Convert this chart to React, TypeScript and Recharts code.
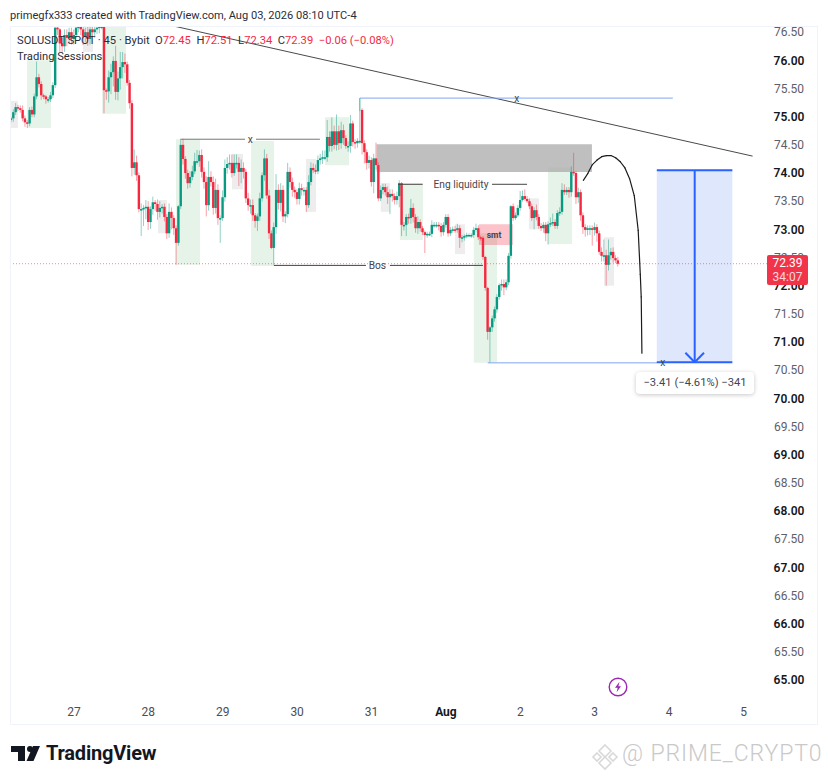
import { Bar, ComposedChart, ReferenceArea, ReferenceDot, ReferenceLine, XAxis, YAxis } from 'recharts';

const UP = '#089981';
const DOWN = '#f5283f';
const LIGHT_BLUE = '#7ea6f4';
const BLUE = '#2962ff';
const FONT = 'Roboto, sans-serif';

const PRICE_TOP = 76.61;
const PRICE_BOTTOM = 64.68;
const LAST_PRICE = 72.39;

const closes = [
  74.97, 75.08, 75.17, 75.15, 75.12, 74.97, 74.9, 74.88, 75.12, 75.04,
  75.36, 75.7, 75.58, 75.38, 75.36, 75.31, 75.31, 75.38, 75.56, 76.58,
  76.55, 76.3, 76.25, 76.45, 76.4, 76.5, 76.38, 76.45, 76.58, 76.6,
  76.55, 76.42, 76.5, 76.38, 76.55, 76.5, 76.55, 76.58, 76.6, 76.6,
  75.47, 75.45, 75.7, 75.79, 75.99, 75.44, 75.68, 75.88, 75.97, 75.93,
  75.6, 75.24, 74.09, 74.19, 73.96, 73.36, 73.36, 73.38, 73.4, 73.13,
  73.36, 73.48, 73.45, 73.31, 73.38, 73.4, 73.22, 72.93, 73.31, 73.2,
  73.02, 72.76, 73.41, 74.5, 74.25, 74.0, 73.82, 73.93, 74.03, 74.21,
  74.21, 74.32, 74.02, 73.84, 73.43, 73.93, 73.84, 73.38, 73.7, 73.2,
  73.2, 73.57, 74.09, 74.16, 74.18, 74.0, 74.18, 74.18, 74.02, 74.09,
  74.02, 73.55, 73.43, 73.43, 73.25, 73.15, 73.23, 73.55, 73.96, 74.26,
  73.6, 72.93, 72.67, 73.04, 73.7, 73.47, 73.7, 73.23, 73.27, 74.02,
  73.84, 73.7, 73.66, 73.54, 73.73, 73.7, 73.7, 73.43, 73.84, 74.09,
  74.05, 74.03, 74.23, 74.26, 74.28, 74.28, 74.64, 74.48, 74.74, 74.5,
  74.74, 74.53, 74.76, 74.62, 74.48, 74.48, 74.88, 74.55, 74.53, 74.57,
  74.57, 74.53, 74.37, 74.18, 74.23, 73.84, 74.26, 74.14, 73.55, 73.7,
  73.75, 73.66, 73.57, 73.63, 73.59, 73.52, 73.59, 73.82, 73.08, 73.08,
  73.22, 73.2, 73.38, 73.22, 73.02, 73.13, 73.02, 72.95, 72.9, 72.92,
  72.92, 73.08, 73.08, 73.08, 73.06, 72.95, 73.08, 73.22, 72.93, 72.99,
  73.0, 72.99, 73.02, 72.85, 72.86, 72.88, 72.9, 72.9, 72.9, 72.99,
  73.02, 72.86, 72.85, 72.51, 71.96, 71.18, 71.26, 71.42, 71.58, 71.8,
  72.01, 72.03, 71.97, 72.06, 72.53, 73.41, 73.2, 73.25, 73.38, 73.52,
  73.59, 73.54, 73.5, 73.41, 73.2, 73.34, 73.22, 73.06, 73.02, 73.08,
  72.93, 73.09, 73.11, 73.13, 73.06, 73.29, 73.31, 73.7, 73.66, 73.7,
  73.66, 74.02, 74.0, 73.57, 73.66, 73.25, 73.04, 72.99, 73.02, 73.02,
  72.99, 73.04, 72.93, 72.6, 72.53, 72.54, 72.37, 72.54, 72.6, 72.49,
  72.45, 72.39,
];

const upperWicks = [
  0.03, 0.05, 0.07, 0.04, 0.05, 0.08, 0.05, 0.04, 0.05, 0.06,
  0.05, 0.28, 0.06, 0.05, 0.03, 0.03, 0.04, 0.06, 0.05, 0.01,
  0.05, 0.02, 0.1, 0.1, 0.1, 0.08, 0.08, 0.1, 0.02, 0.01,
  0.05, 0.1, 0.08, 0.1, 0.05, 0.05, 0.05, 0.02, 0.01, 0.01,
  0.01, 0.03, 0.12, 0.15, 0.08, 0.27, 0.12, 0.27, 0.18, 0.15,
  0.05, 0.05, 0.05, 0.23, 0.12, 0.05, 0.1, 0.05, 0.12, 0.1,
  0.05, 0.1, 0.04, 0.08, 0.12, 0.05, 0.06, 0.05, 0.15, 0.08,
  0.05, 0.05, 0.02, 0.1, 0.11, 0.05, 0.06, 0.1, 0.1, 0.15,
  0.2, 0.08, 0.1, 0.08, 0.1, 0.28, 0.1, 0.1, 0.2, 0.1,
  0.05, 0.12, 0.15, 0.12, 0.15, 0.15, 0.15, 0.15, 0.1, 0.15,
  0.1, 0.05, 0.1, 0.1, 0.1, 0.04, 0.05, 0.1, 0.05, 0.16,
  0.08, 0.1, 0.05, 0.08, 0.28, 0.1, 0.12, 0.08, 0.05, 0.16,
  0.08, 0.08, 0.06, 0.05, 0.1, 0.08, 0.05, 0.05, 0.12, 0.1,
  0.08, 0.1, 0.08, 0.08, 0.12, 0.12, 0.3, 0.1, 0.25, 0.1,
  0.3, 0.1, 0.15, 0.1, 0.05, 0.08, 0.15, 0.05, 0.05, 0.05,
  0.76, 0.03, 0.05, 0.05, 0.08, 0.05, 0.08, 0.28, 0.05, 0.08,
  0.06, 0.06, 0.1, 0.08, 0.08, 0.05, 0.08, 0.05, 0.02, 0.05,
  0.05, 0.06, 0.16, 0.08, 0.05, 0.1, 0.05, 0.04, 0.03, 0.04,
  0.04, 0.08, 0.05, 0.05, 0.05, 0.05, 0.05, 0.05, 0.05, 0.05,
  0.05, 0.06, 0.08, 0.05, 0.04, 0.03, 0.04, 0.03, 0.03, 0.05,
  0.08, 0.05, 0.03, 0.03, 0.02, 0.02, 0.02, 0.05, 0.05, 0.05,
  0.03, 0.08, 0.08, 0.05, 0.05, 0.02, 0.05, 0.05, 0.05, 0.16,
  0.1, 0.12, 0.05, 0.05, 0.05, 0.05, 0.1, 0.05, 0.05, 0.05,
  0.05, 0.05, 0.1, 0.15, 0.05, 0.05, 0.08, 0.12, 0.1, 0.05,
  0.05, 0.1, 0.34, 0.03, 0.08, 0.05, 0.05, 0.05, 0.05, 0.05,
  0.05, 0.08, 0.05, 0.05, 0.08, 0.28, 0.1, 0.28, 0.07, 0.08,
  0.05, 0.06,
];

const lowerWicks = [
  0.05, 0.06, 0.05, 0.05, 0.05, 0.05, 0.08, 0.08, 0.05, 0.05,
  0.05, 0.05, 0.06, 0.08, 0.05, 0.08, 0.06, 0.05, 0.05, 0.05,
  0.1, 0.15, 0.12, 0.1, 0.15, 0.1, 0.1, 0.1, 0.05, 0.08,
  0.1, 0.15, 0.1, 0.12, 0.1, 0.08, 0.1, 0.08, 0.1, 0.05,
  0.41, 0.15, 0.2, 0.3, 0.25, 0.14, 0.15, 0.2, 0.2, 0.15,
  0.05, 0.1, 0.15, 0.12, 0.1, 0.06, 0.48, 0.3, 0.2, 0.14,
  0.12, 0.1, 0.12, 0.14, 0.1, 0.1, 0.08, 0.1, 0.08, 0.2,
  0.12, 0.39, 0.05, 0.05, 0.1, 0.1, 0.1, 0.08, 0.06, 0.05,
  0.06, 0.1, 0.1, 0.12, 0.2, 0.1, 0.08, 0.12, 0.1, 0.12,
  0.44, 0.05, 0.08, 0.1, 0.1, 0.08, 0.05, 0.1, 0.25, 0.2,
  0.12, 0.08, 0.1, 0.15, 0.1, 0.12, 0.18, 0.08, 0.06, 0.1,
  0.06, 0.1, 0.02, 0.3, 0.12, 0.12, 0.15, 0.1, 0.12, 0.06,
  0.1, 0.12, 0.1, 0.1, 0.1, 0.1, 0.1, 0.12, 0.05, 0.06,
  0.05, 0.05, 0.05, 0.08, 0.1, 0.05, 0.08, 0.1, 0.1, 0.08,
  0.1, 0.12, 0.1, 0.12, 0.05, 0.1, 0.12, 0.08, 0.1, 0.08,
  0.05, 0.2, 0.2, 0.12, 0.1, 0.08, 0.2, 0.08, 0.05, 0.05,
  0.08, 0.06, 0.12, 0.3, 0.1, 0.08, 0.08, 0.2, 0.2, 0.1,
  0.2, 0.1, 0.1, 0.1, 0.08, 0.1, 0.06, 0.05, 0.32, 0.05,
  0.04, 0.06, 0.05, 0.05, 0.08, 0.08, 0.06, 0.05, 0.06, 0.05,
  0.05, 0.05, 0.05, 0.18, 0.08, 0.06, 0.04, 0.03, 0.05, 0.05,
  0.05, 0.05, 0.05, 0.05, 0.05, 0.14, 0.55, 0.08, 0.06, 0.06,
  0.05, 0.1, 0.14, 0.05, 0.05, 0.05, 0.05, 0.03, 0.03, 0.05,
  0.03, 0.03, 0.03, 0.05, 0.05, 0.2, 0.06, 0.05, 0.05, 0.08,
  0.14, 0.2, 0.05, 0.05, 0.05, 0.05, 0.05, 0.05, 0.05, 0.05,
  0.1, 0.08, 0.05, 0.12, 0.1, 0.1, 0.12, 0.12, 0.1, 0.12,
  0.28, 0.1, 0.15, 0.05, 0.1, 0.1, 0.37, 0.1, 0.08, 0.08,
  0.05, 0.05,
];

// opens follow the previous close except where the picture shows a gap
const openGaps: Record<number, number> = { 0: 74.95, 151: 75.12 };

const dayTicks = [27, 59, 91, 123, 155, 187, 219, 251, 283, 315];
const dayLabels = ['27', '28', '29', '30', '31', 'Aug', '2', '3', '4', '5'];
const priceTicks = [
  65, 65.5, 66, 66.5, 67, 67.5, 68, 68.5, 69, 69.5, 70, 70.5,
  71, 71.5, 72, 72.5, 73, 73.5, 74, 74.5, 75, 75.5, 76, 76.5,
];

const greenSessions = [
  [6.8, 17.1, 76.0, 74.8],
  [39.1, 49.4, 76.61, 75.05],
  [70.9, 81.2, 74.6, 72.37],
  [103.2, 113.1, 74.57, 72.35],
  [135, 145.3, 74.99, 74.14],
  [167.2, 177.1, 73.82, 72.81],
  [199, 209, 72.93, 70.63],
  [230.9, 241.2, 74.1, 72.74],
];
const graySessions = [
  [-0.5, 2.9, 75.28, 74.8],
  [30.9, 35.2, 76.61, 76.15],
  [63.2, 67, 73.52, 72.93],
  [95, 99.7, 74.34, 73.71],
  [126.8, 131.1, 74.25, 73.31],
  [159, 162.9, 73.82, 73.31],
  [190.9, 195.2, 73.09, 72.56],
  [222.7, 227, 73.55, 73.0],
  [255, 259.3, 72.86, 72.0],
];

const curvePoints = [
  [246.1, 73.87], [248, 73.99], [250, 74.15], [252, 74.23], [254, 74.29],
  [256, 74.31], [258, 74.31], [260, 74.27], [262, 74.2], [264, 74.09],
  [266, 73.9], [268, 73.6], [269.7, 72.98], [270.6, 72.2], [271, 71.8], [271.3, 70.8],
];

const candles = closes.map((close, bar) => {
  const open = openGaps[bar] ?? closes[bar - 1];
  const high = Math.min(Math.max(open, close) + upperWicks[bar], PRICE_TOP);
  const low = Math.min(open, close) - lowerWicks[bar];
  return { bar, open, close, high, low, range: [low, high] };
});

function Candle(props: any) {
  const { x, y, width, height, payload } = props;
  const { open, close, high, low } = payload;
  const perPrice = Math.abs(height) / (high - low);
  const openY = y + (high - open) * perPrice;
  const closeY = y + (high - close) * perPrice;
  const color = close >= open ? UP : DOWN;
  const mid = x + width / 2;
  return (
    <g>
      <line x1={mid} x2={mid} y1={y} y2={y + Math.abs(height)} stroke={color} strokeOpacity={0.45} strokeWidth={1} />
      <rect x={mid - 1.2} width={2.4} y={Math.min(openY, closeY)} height={Math.max(Math.abs(closeY - openY), 1.5)} fill={color} />
    </g>
  );
}

function DayTick({ x, y, payload }: any) {
  const label = dayLabels[dayTicks.indexOf(payload.value)];
  const isMonth = label === 'Aug';
  return (
    <text x={x} y={y + 10} textAnchor="middle" fontFamily={FONT} fontSize={12} fontWeight={isMonth ? 700 : 400} fill={isMonth ? '#131722' : '#4a4e59'}>
      {label}
    </text>
  );
}

function PriceTick({ x, y, payload }: any) {
  const whole = Number.isInteger(payload.value);
  return (
    <text x={x + 14} y={y} dy="0.35em" textAnchor="middle" fontFamily={FONT} fontSize={12} fontWeight={whole ? 600 : 400} fill={whole ? '#131722' : '#5d606b'}>
      {payload.value.toFixed(2)}
    </text>
  );
}

const tagText = (value: string, color = '#434651', size = 10.2, weight = 400) => ({
  value,
  position: 'center' as const,
  fill: color,
  fontSize: size,
  fontWeight: weight,
  fontFamily: FONT,
});

const abs = (left: number, top: number, extra: object = {}) => ({
  position: 'absolute' as const,
  left,
  top,
  whiteSpace: 'nowrap' as const,
  fontFamily: FONT,
  ...extra,
});

export default function App() {
  return (
    <div style={{ position: 'absolute', left: 0, top: 0, width: 828, height: 781, background: '#fff', overflow: 'hidden' }}>
      <div style={abs(10, 9, { fontSize: 11.1, color: '#2a2e39' })}>
        primegfx333 created with TradingView.com, Aug 03, 2026 08:10 UTC-4
      </div>

      <div style={{ position: 'absolute', left: 10, top: 26, width: 808, height: 699 }}>
        <ComposedChart width={808} height={699} data={candles} margin={{ top: 0, right: 0, bottom: 0, left: 0 }}>
          <XAxis
            dataKey="bar"
            type="number"
            domain={[-0.5, 325.1]}
            ticks={dayTicks}
            interval={0}
            allowDataOverflow
            axisLine={false}
            tickLine={false}
            height={27}
            tick={<DayTick />}
          />
          <YAxis
            orientation="right"
            type="number"
            domain={[PRICE_BOTTOM, PRICE_TOP]}
            ticks={priceTicks}
            interval={0}
            allowDataOverflow
            axisLine={false}
            tickLine={false}
            width={51}
            tick={<PriceTick />}
          />

          {greenSessions.map(([x1, x2, y1, y2]) => (
            <ReferenceArea key={`g${x1}`} x1={x1} x2={x2} y1={y1} y2={y2} fill="#e6f3e8" fillOpacity={1} stroke="none" />
          ))}
          {graySessions.map(([x1, x2, y1, y2]) => (
            <ReferenceArea key={`s${x1}`} x1={x1} x2={x2} y1={y1} y2={y2} fill="#ededed" fillOpacity={1} stroke="none" />
          ))}
          <ReferenceArea x1={201.2} x2={215.8} y1={73.09} y2={72.72} fill={DOWN} fillOpacity={0.28} stroke="none" />
          <ReferenceArea x1={157.2} x2={249.8} y1={74.51} y2={74.02} fill="#a9a9a9" fillOpacity={0.75} stroke="none" />
          <ReferenceArea x1={277.7} x2={310.2} y1={74.05} y2={70.64} fill="#dee7fc" fillOpacity={1} stroke="none" />

          <ReferenceLine y={LAST_PRICE} stroke={DOWN} strokeOpacity={0.55} strokeDasharray="1 2" />

          <Bar dataKey="range" barSize={2} shape={<Candle />} isAnimationActive={false} />

          <ReferenceLine segment={[{ x: 70.9, y: 76.6 }, { x: 318.9, y: 74.3 }]} stroke="#4a4a4a" strokeWidth={1} />

          <ReferenceLine segment={[{ x: 150, y: 75.33 }, { x: 284.6, y: 75.33 }]} stroke={LIGHT_BLUE} strokeWidth={1} />
          <ReferenceLine segment={[{ x: 150, y: 75.33 }, { x: 150, y: 75.1 }]} stroke={UP} strokeOpacity={0.5} strokeWidth={1} />
          <ReferenceLine segment={[{ x: 205, y: 70.63 }, { x: 277.8, y: 70.63 }]} stroke={LIGHT_BLUE} strokeWidth={1} />

          <ReferenceLine segment={[{ x: 72.8, y: 74.6 }, { x: 100.6, y: 74.6 }]} stroke="#777" strokeWidth={1} />
          <ReferenceLine segment={[{ x: 105.3, y: 74.6 }, { x: 132.8, y: 74.6 }]} stroke="#777" strokeWidth={1} />
          <ReferenceLine segment={[{ x: 113, y: 72.36 }, { x: 152.6, y: 72.36 }]} stroke="#444" strokeWidth={1} />
          <ReferenceLine segment={[{ x: 162.9, y: 72.36 }, { x: 202.9, y: 72.36 }]} stroke="#444" strokeWidth={1} />
          <ReferenceLine segment={[{ x: 166.4, y: 73.8 }, { x: 177, y: 73.8 }]} stroke="#444" strokeWidth={1} />
          <ReferenceLine segment={[{ x: 206.8, y: 73.8 }, { x: 221.9, y: 73.8 }]} stroke="#444" strokeWidth={1} />

          {curvePoints.slice(1).map(([x, y], i) => (
            <ReferenceLine
              key={`c${x}`}
              segment={[{ x: curvePoints[i][0], y: curvePoints[i][1] }, { x, y }]}
              stroke="#1c1c1c"
              strokeWidth={1.2}
              strokeLinecap="round"
            />
          ))}

          <ReferenceLine segment={[{ x: 277.7, y: 74.05 }, { x: 310.2, y: 74.05 }]} stroke={BLUE} strokeWidth={2} />
          <ReferenceLine segment={[{ x: 277.7, y: 70.64 }, { x: 310.2, y: 70.64 }]} stroke={BLUE} strokeWidth={2} />
          <ReferenceLine segment={[{ x: 294, y: 74.05 }, { x: 294, y: 70.64 }]} stroke={BLUE} strokeWidth={2} />
          <ReferenceLine segment={[{ x: 290, y: 70.81 }, { x: 294, y: 70.64 }]} stroke={BLUE} strokeWidth={2} />
          <ReferenceLine segment={[{ x: 298, y: 70.81 }, { x: 294, y: 70.64 }]} stroke={BLUE} strokeWidth={2} />

          <ReferenceDot x={102.9} y={74.6} r={0} stroke="none" label={tagText('x')} />
          <ReferenceDot x={217.5} y={75.33} r={0} stroke="none" label={tagText('x')} />
          <ReferenceDot x={280.3} y={70.64} r={0} stroke="none" label={tagText('x')} />
          <ReferenceDot x={157.5} y={72.36} r={0} stroke="none" label={tagText('Bos')} />
          <ReferenceDot x={193.5} y={73.8} r={0} stroke="none" label={tagText('Eng liquidity')} />
          <ReferenceDot x={207.7} y={72.9} r={0} stroke="none" label={tagText('smt', '#434651', 8.5, 700)} />
        </ComposedChart>
      </div>

      <div style={{ position: 'absolute', left: 10, top: 26, width: 808, height: 699, border: '1px solid #f0f3fa', boxSizing: 'border-box', pointerEvents: 'none' }} />

      <div style={abs(17, 34, { fontSize: 11.2, color: '#2a2e39' })}>
        SOLUSDT SPOT · 45 · Bybit&nbsp;&nbsp;O<span style={{ color: DOWN }}>72.45</span>&nbsp;&nbsp;H<span style={{ color: DOWN }}>72.51</span>&nbsp;&nbsp;L<span style={{ color: DOWN }}>72.34</span>&nbsp;&nbsp;C<span style={{ color: DOWN }}>72.39</span>&nbsp;&nbsp;<span style={{ color: DOWN }}>−0.06 (−0.08%)</span>
      </div>
      <div style={abs(17, 50, { fontSize: 11.2, color: '#2a2e39' })}>Trading Sessions</div>

      <div style={abs(767, 255, { width: 41, height: 30, background: '#f2344b', borderRadius: 2, textAlign: 'center', fontSize: 12, lineHeight: '14px', paddingTop: 1, boxSizing: 'border-box' })}>
        <div style={{ color: '#fff' }}>72.39</div>
        <div style={{ color: '#fcd5da' }}>34:07</div>
      </div>

      <div style={abs(636, 372, { width: 118, height: 22, lineHeight: '22px', textAlign: 'center', background: '#fff', borderRadius: 4, boxShadow: '0 1px 4px rgba(0,0,0,0.22)', fontSize: 11.2, color: '#434651' })}>
        −3.41 (−4.61%) −341
      </div>

      <svg style={{ position: 'absolute', left: 608, top: 677 }} width={20} height={20}>
        <circle cx={10} cy={10} r={8.8} fill="#fff" stroke="#9c27b0" strokeWidth={1.4} />
        <path d="M11.5 4.8 L7 10.8 H9.7 L8.6 15.2 L13 9.2 H10.4 Z" fill="#9c27b0" />
      </svg>

      <svg style={{ position: 'absolute', left: 11, top: 745 }} width={30} height={18}>
        <path d="M0 1 H14 V16 H7 V7 H0 Z" fill="#131722" />
        <circle cx={19} cy={4} r={3} fill="#131722" />
        <path d="M22 1 H29 L22.5 16 H15.5 Z" fill="#131722" />
      </svg>
      <div style={abs(46, 741, { fontSize: 20, fontWeight: 700, color: '#131722', letterSpacing: -0.2 })}>TradingView</div>

      <svg style={{ position: 'absolute', left: 591, top: 743 }} width={28} height={28}>
        <g fill="none" stroke="#d9d9d9" strokeWidth={1.6}>
          <path d="M14 2 L20 8 L14 14 L8 8 Z" />
          <path d="M6 10 L10 14 L6 18 L2 14 Z" />
          <path d="M22 10 L26 14 L22 18 L18 14 Z" />
          <path d="M14 14 L20 20 L14 26 L8 20 Z" />
        </g>
      </svg>
      <div style={abs(622, 740, { fontSize: 23, fontWeight: 300, color: '#c9c9c9', letterSpacing: 0.9 })}>@ PRIME_CRYPT0</div>
    </div>
  );
}
